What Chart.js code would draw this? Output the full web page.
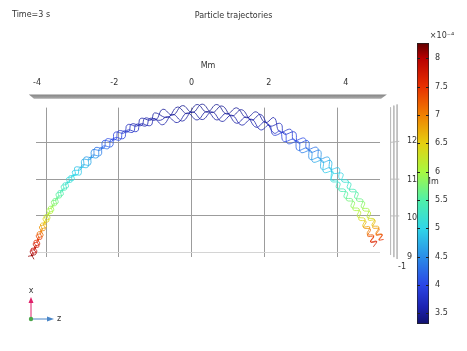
<!DOCTYPE html>
<html>
<head>
<meta charset="utf-8">
<title>Particle trajectories</title>
<script src="https://cdn.jsdelivr.net/npm/chart.js@4/dist/chart.umd.min.js"></script>
<style>
    html, body { margin: 0; padding: 0; background: #fff; }
    #wrap { position: relative; width: 467px; height: 351px; overflow: hidden; }
    canvas { position: absolute; top: 0; left: 0; }
    #colorbar { left: 413px; top: 30px; }
</style>
</head>
<body>
<div id="wrap">
    <canvas id="trajChart" width="467" height="351"></canvas>
    <canvas id="colorbar" width="54" height="310"></canvas>
</div>
<script>
// z (Mm), x (Mm), one list per particle
const trajA = [[-4.49,8.90],[-4.35,8.95],[-4.41,9.10],[-4.27,9.15],[-4.33,9.31],[-4.19,9.37],[-4.24,9.54],[-4.10,9.61],[-4.15,9.78],[-4.00,9.84],[-4.05,10.01],[-3.90,10.07],
    [-3.93,10.24],[-3.78,10.29],[-3.81,10.45],[-3.65,10.50],[-3.67,10.67],[-3.51,10.71],[-3.53,10.88],[-3.36,10.92],[-3.37,11.08],[-3.20,11.11],
    [-3.21,11.32],[-2.98,11.34],[-2.95,11.59],[-2.71,11.60],[-2.66,11.85],[-2.41,11.85],[-2.35,12.09],[-2.09,12.08],[-2.02,12.31],[-1.74,12.29],[-1.66,12.50],[-1.38,12.46],[-1.29,12.66],[-1.00,12.61],
    [-0.80,12.90],[-0.53,12.74],[-0.26,13.00],[0.01,12.81],[0.28,13.04],[0.55,12.81],[0.82,12.99],[1.09,12.72],[1.36,12.89],[1.63,12.61],[1.88,12.76],[2.12,12.45],
    [2.43,12.51],[2.52,12.23],[2.82,12.28],[2.90,11.99],[3.18,12.04],[3.24,11.74],[3.51,11.78],[3.56,11.47],[3.81,11.50],[3.84,11.18],
    [4.13,11.15],[4.11,10.94],[4.35,10.89],[4.32,10.68],[4.55,10.63],[4.51,10.42],[4.73,10.37],[4.68,10.16],[4.89,10.10],[4.83,9.89],[5.02,9.88],[4.95,9.68],[5.13,9.65],[5.04,9.48],[5.21,9.49],[5.12,9.34]];
const trajB = [[-4.37,8.90],[-4.43,9.05],[-4.29,9.10],[-4.35,9.25],[-4.21,9.31],[-4.27,9.47],[-4.12,9.54],[-4.18,9.71],[-4.03,9.78],[-4.08,9.94],[-3.93,10.01],[-3.98,10.17],
    [-3.82,10.23],[-3.85,10.40],[-3.70,10.44],[-3.72,10.61],[-3.56,10.66],[-3.58,10.82],[-3.42,10.87],[-3.43,11.03],[-3.26,11.07],[-3.27,11.22],
    [-3.04,11.27],[-3.01,11.53],[-2.78,11.54],[-2.74,11.79],[-2.49,11.80],[-2.44,12.04],[-2.18,12.04],[-2.12,12.27],[-1.85,12.26],[-1.77,12.48],[-1.49,12.45],[-1.41,12.65],[-1.12,12.61],[-1.03,12.80],
    [-0.67,12.68],[-0.40,12.96],[-0.13,12.78],[0.14,13.03],[0.41,12.82],[0.68,13.03],[0.95,12.77],[1.22,12.94],[1.49,12.67],[1.76,12.83],[2.01,12.54],[2.25,12.67],
    [2.40,12.29],[2.71,12.35],[2.79,12.06],[3.09,12.11],[3.15,11.82],[3.43,11.86],[3.48,11.56],[3.75,11.59],[3.78,11.28],[4.03,11.30],
    [4.04,11.01],[4.28,10.96],[4.26,10.75],[4.49,10.70],[4.46,10.49],[4.68,10.44],[4.64,10.23],[4.85,10.18],[4.80,9.96],[5.00,9.91],[4.93,9.74],[5.12,9.70],[5.04,9.51],[5.21,9.50],[5.12,9.35],[5.25,9.36]];
const trajC = [[-4.41,8.92],[-4.27,8.97],[-4.33,9.12],[-4.19,9.17],[-4.25,9.33],[-4.11,9.39],[-4.16,9.56],[-4.02,9.63],[-4.07,9.80],[-3.92,9.86],[-3.97,10.03],[-3.82,10.09],
    [-3.86,10.25],[-3.71,10.30],[-3.74,10.46],[-3.58,10.51],[-3.60,10.68],[-3.44,10.72],[-3.46,10.89],[-3.29,10.93],[-3.30,11.09],[-3.13,11.12],
    [-3.08,11.31],[-2.85,11.33],[-2.82,11.58],[-2.58,11.59],[-2.53,11.84],[-2.28,11.84],[-2.22,12.08],[-1.96,12.07],[-1.89,12.30],[-1.61,12.28],[-1.53,12.49],[-1.25,12.45],[-1.16,12.65],[-0.87,12.60],
    [-0.67,12.70],[-0.40,12.54],[-0.13,12.80],[0.14,12.61],[0.41,12.84],[0.68,12.61],[0.95,12.79],[1.22,12.52],[1.49,12.69],[1.76,12.41],[2.01,12.56],[2.25,12.25],
    [2.42,12.31],[2.51,12.03],[2.81,12.08],[2.89,11.79],[3.17,11.84],[3.23,11.54],[3.50,11.58],[3.55,11.27],[3.80,11.30],[3.83,10.98],
    [3.98,10.97],[3.96,10.76],[4.20,10.71],[4.17,10.50],[4.40,10.45],[4.36,10.24],[4.58,10.19],[4.53,9.98],[4.74,9.92],[4.68,9.71],[4.87,9.70],[4.80,9.50],[4.98,9.47],[4.89,9.30],[5.06,9.31],[4.97,9.16]];
const trajD = [[-4.33,8.82],[-4.39,8.97],[-4.25,9.02],[-4.31,9.17],[-4.17,9.23],[-4.23,9.39],[-4.08,9.46],[-4.14,9.63],[-3.99,9.70],[-4.04,9.86],[-3.89,9.93],[-3.94,10.09],
    [-3.79,10.14],[-3.82,10.31],[-3.67,10.35],[-3.69,10.52],[-3.53,10.57],[-3.55,10.73],[-3.39,10.78],[-3.40,10.94],[-3.23,10.98],[-3.24,11.13],
    [-3.05,11.12],[-3.02,11.38],[-2.79,11.39],[-2.75,11.64],[-2.50,11.65],[-2.45,11.89],[-2.19,11.89],[-2.13,12.12],[-1.86,12.11],[-1.78,12.33],[-1.50,12.30],[-1.42,12.50],[-1.13,12.46],[-1.04,12.65],
    [-0.80,12.48],[-0.53,12.76],[-0.26,12.58],[0.01,12.83],[0.28,12.62],[0.55,12.83],[0.82,12.57],[1.09,12.74],[1.36,12.47],[1.63,12.63],[1.88,12.34],[2.12,12.47],
    [2.23,12.20],[2.54,12.26],[2.62,11.97],[2.92,12.02],[2.98,11.73],[3.26,11.77],[3.31,11.47],[3.58,11.50],[3.61,11.19],[3.86,11.21],
    [3.81,10.95],[4.05,10.90],[4.03,10.69],[4.26,10.64],[4.23,10.43],[4.45,10.38],[4.41,10.17],[4.62,10.12],[4.57,9.90],[4.77,9.85],[4.70,9.68],[4.89,9.64],[4.81,9.45],[4.98,9.44],[4.89,9.29],[5.06,9.30]];

// tick labels
const zTicks = [-4, -2, 0, 2, 4];
const xTicks = [9, 10, 11, 12];
const speedTicks = [3.5, 4, 4.5, 5, 5.5, 6, 6.5, 7, 7.5, 8];
const speedRange = [3.31, 8.27];

// particle speed seen at each height (colour of the tracks)
const heightLevels = [8.85, 9.3, 9.7, 10, 10.5, 11, 11.5, 12, 12.5, 13.1];
const speedLevels = [8.2, 7.6, 6.8, 6.2, 5.6, 5.1, 4.7, 4.1, 3.6, 3.4];

// colour table of the bar
const mapValues = [3.31, 3.6, 4, 4.5, 5, 5.5, 6, 6.5, 7, 7.5, 8, 8.27];
const mapColors = ['#11116e', '#1c22b0', '#2b46e6', '#2a8ee8', '#2fd6e8', '#50f0a8', '#a8f840', '#e6cf10', '#f08000', '#e83000', '#b80000', '#600000'];

// grey box faces of the plot
const bandZ = [-4.47, 5.34, 5.18, -4.33];
const bandX = [13.30, 13.30, 13.19, 13.19];
const sideLines = [
    [[5.44, 12.95], [5.44, 8.94]],
    [[5.53, 13.00], [5.53, 8.88]],
    [[5.62, 13.03], [5.62, 8.83]],
    [[5.44, 12], [5.68, 12.03]],
    [[5.44, 11], [5.68, 11]],
    [[5.44, 10], [5.68, 10]]
];

Chart.defaults.font.family = '"DejaVu Sans", sans-serif';
Chart.defaults.font.size = 8;
Chart.defaults.color = '#333';
Chart.defaults.animation = false;

function lerp(xs, ys, v) {
    if (v <= xs[0]) return ys[0];
    for (let i = 1; i < xs.length; i++) {
        if (v <= xs[i]) return ys[i - 1] + (ys[i] - ys[i - 1]) * (v - xs[i - 1]) / (xs[i] - xs[i - 1]);
    }
    return ys[ys.length - 1];
}

function speedColor(v) {
    let i = 1;
    while (i < mapValues.length - 1 && v > mapValues[i]) i++;
    const t = Math.min(1, Math.max(0, (v - mapValues[i - 1]) / (mapValues[i] - mapValues[i - 1])));
    const a = parseInt(mapColors[i - 1].slice(1), 16), b = parseInt(mapColors[i].slice(1), 16);
    const mix = (s) => Math.round(((a >> s) & 255) + (((b >> s) & 255) - ((a >> s) & 255)) * t);
    return 'rgb(' + mix(16) + ',' + mix(8) + ',' + mix(0) + ')';
}

function trackColor(ctx) {
    const h = (ctx.p0.parsed.y + ctx.p1.parsed.y) / 2;
    return speedColor(lerp(heightLevels, speedLevels, h));
}

function trackSet(name, list) {
    return {
        label: name,
        data: list.map((p) => ({ x: p[0], y: p[1] })),
        showLine: true,
        pointRadius: 0,
        borderWidth: 0.8,
        borderColor: '#2233aa',
        tension: 0.45,
        clip: false,
        segment: { borderColor: trackColor }
    };
}

function sideSet(list, i) {
    return {
        label: 'side ' + i,
        data: list.map((p) => ({ x: p[0], y: p[1] })),
        showLine: true,
        pointRadius: 0,
        borderWidth: 1,
        borderColor: '#bcbcbc',
        clip: false
    };
}

// top band, small texts and the axis triad
const extras = {
    id: 'extras',
    beforeDatasetsDraw(chart) {
        const c = chart.ctx, sx = chart.scales.x, sy = chart.scales.y;
        const g = c.createLinearGradient(0, sy.getPixelForValue(13.30), 0, sy.getPixelForValue(13.19));
        g.addColorStop(0, '#858585');
        g.addColorStop(1, '#aaaaaa');
        c.save();
        c.fillStyle = g;
        c.beginPath();
        bandZ.forEach((z, i) => c.lineTo(sx.getPixelForValue(z), sy.getPixelForValue(bandX[i])));
        c.closePath();
        c.fill();
        c.restore();
    },
    afterDraw(chart) {
        const c = chart.ctx;
        c.save();
        c.font = '8px "DejaVu Sans", sans-serif';
        c.fillStyle = '#333';
        c.textBaseline = 'middle';
        c.textAlign = 'left';
        c.fillText('Time=3 s', 12, 15);
        c.fillText('Mm', 424, 182);
        c.textAlign = 'center';
        c.fillText('-1', 402, 267);
        c.fillText('0', 419, 284);
        c.fillText('x', 31, 291);
        c.fillText('z', 59, 319);

        c.lineWidth = 1;
        c.strokeStyle = c.fillStyle = '#e0206a';
        c.beginPath(); c.moveTo(31, 319); c.lineTo(31, 301); c.stroke();
        c.beginPath(); c.moveTo(31, 297); c.lineTo(28.5, 303); c.lineTo(33.5, 303); c.closePath(); c.fill();
        c.strokeStyle = c.fillStyle = '#4a86c8';
        c.beginPath(); c.moveTo(31, 319); c.lineTo(49, 319); c.stroke();
        c.beginPath(); c.moveTo(54, 319); c.lineTo(47, 316.5); c.lineTo(47, 321.5); c.closePath(); c.fill();
        c.fillStyle = '#4ca64c';
        c.beginPath(); c.arc(31, 319, 2.2, 0, Math.PI * 2); c.fill();
        c.restore();
    }
};

new Chart(document.getElementById('trajChart'), {
    type: 'scatter',
    plugins: [extras],
    data: {
        datasets: sideLines.map(sideSet).concat([
            trackSet('Particle 1', trajA),
            trackSet('Particle 2', trajB),
            trackSet('Particle 3', trajC),
            trackSet('Particle 4', trajD)
        ])
    },
    options: {
        responsive: false,
        events: [],
        layout: { padding: 0 },
        plugins: {
            legend: { display: false },
            tooltip: { enabled: false },
            title: {
                display: true,
                text: 'Particle trajectories',
                color: '#333',
                font: { size: 8, weight: 'normal' },
                padding: { top: 11, bottom: 0 }
            }
        },
        scales: {
            x: {
                type: 'linear',
                position: 'bottom',
                min: -4.274,
                max: 5.151,
                afterBuildTicks: (s) => { s.ticks = zTicks.map((v) => ({ value: v })); },
                afterFit: (s) => { s.height = 94; },
                ticks: { display: false },
                border: { display: false },
                grid: { color: '#9c9c9c', drawTicks: false }
            },
            x2: {
                type: 'linear',
                axis: 'x',
                position: 'top',
                min: -4.028,
                max: 4.883,
                afterBuildTicks: (s) => { s.ticks = zTicks.map((v) => ({ value: v })); },
                afterFit: (s) => { s.height = 87; },
                title: { display: true, text: 'Mm', color: '#333', font: { size: 8 }, padding: { top: 41, bottom: 0 } },
                ticks: { padding: 20, maxRotation: 0, autoSkip: false },
                border: { display: false },
                grid: { display: false, drawTicks: false }
            },
            y: {
                type: 'linear',
                position: 'left',
                min: 8.883,
                max: 12.946,
                afterBuildTicks: (s) => { s.ticks = xTicks.map((v) => ({ value: v })); },
                afterFit: (s) => { s.width = 36; },
                ticks: { display: false },
                border: { display: false },
                grid: { color: (ctx) => (ctx.tick.value === 9 ? '#d4d4d4' : '#9c9c9c'), drawTicks: false }
            },
            y2: {
                type: 'linear',
                axis: 'y',
                position: 'right',
                min: 9,
                max: 12.857,
                afterBuildTicks: (s) => { s.ticks = xTicks.map((v) => ({ value: v })); },
                afterFit: (s) => { s.width = 87; },
                ticks: { padding: 27 },
                border: { display: false },
                grid: { display: false, drawTicks: false }
            }
        }
    }
});

// little inward tick marks on both edges of the bar
const barTicks = {
    id: 'barTicks',
    afterDatasetsDraw(chart) {
        const c = chart.ctx, a = chart.chartArea, sy = chart.scales.y;
        c.save();
        c.strokeStyle = '#222';
        c.lineWidth = 1;
        speedTicks.forEach((v) => {
            const p = Math.round(sy.getPixelForValue(v)) + 0.5;
            c.beginPath();
            c.moveTo(a.left, p); c.lineTo(a.left + 3, p);
            c.moveTo(a.right - 3, p); c.lineTo(a.right, p);
            c.stroke();
        });
        c.restore();
    }
};

new Chart(document.getElementById('colorbar'), {
    type: 'bar',
    plugins: [barTicks],
    data: {
        labels: ['speed'],
        datasets: [{
            label: 'Speed',
            data: [speedRange],
            barPercentage: 1,
            categoryPercentage: 1,
            borderWidth: 1,
            borderColor: '#222',
            borderSkipped: false,
            backgroundColor(ctx) {
                const a = ctx.chart.chartArea, sy = ctx.chart.scales.y;
                if (!a) return '#888';
                const g = ctx.chart.ctx.createLinearGradient(0, a.bottom, 0, a.top);
                mapValues.forEach((v, i) => {
                    g.addColorStop((sy.getPixelForValue(v) - a.bottom) / (a.top - a.bottom), mapColors[i]);
                });
                return g;
            }
        }]
    },
    options: {
        responsive: false,
        events: [],
        layout: { padding: { left: 4, right: 0, top: 0, bottom: 16 } },
        plugins: {
            legend: { display: false },
            tooltip: { enabled: false },
            title: {
                display: true,
                text: '×10⁻⁴',
                color: '#333',
                font: { size: 8, weight: 'normal' },
                padding: { top: 1.2, bottom: 2.2 }
            }
        },
        scales: {
            x: { display: false },
            y: {
                position: 'right',
                min: speedRange[0],
                max: speedRange[1],
                afterBuildTicks: (s) => { s.ticks = speedTicks.map((v) => ({ value: v })); },
                afterFit: (s) => { s.width = 38; },
                ticks: { padding: 6, callback: (v) => String(v) },
                border: { display: false },
                grid: { display: false, drawTicks: false }
            }
        }
    }
});
</script>
</body>
</html>
